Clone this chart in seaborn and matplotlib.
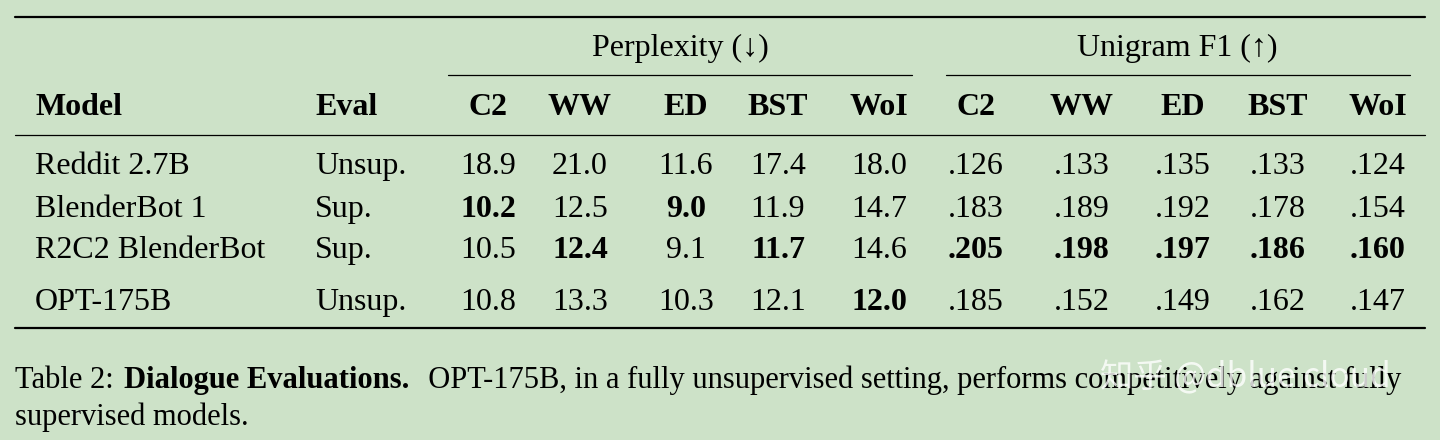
import matplotlib
matplotlib.use("Agg")
import matplotlib.pyplot as plt
import seaborn as sns

sns.set_theme(style="white")
plt.rcParams['font.family'] = ['Liberation Serif', 'Noto Sans CJK SC', 'DejaVu Sans']
plt.rcParams['text.color'] = 'black'

# table data
models = ["Reddit 2.7B", "BlenderBot 1", "R2C2 BlenderBot", "OPT-175B"]
evals = ["Unsup.", "Sup.", "Sup.", "Unsup."]
datasets = ["C2", "WW", "ED", "BST", "WoI"]
perplexity = [
    ["18.9", "21.0", "11.6", "17.4", "18.0"],
    ["10.2", "12.5", "9.0", "11.9", "14.7"],
    ["10.5", "12.4", "9.1", "11.7", "14.6"],
    ["10.8", "13.3", "10.3", "12.1", "12.0"],
]
unigram_f1 = [
    [".126", ".133", ".135", ".133", ".124"],
    [".183", ".189", ".192", ".178", ".154"],
    [".205", ".198", ".197", ".186", ".160"],
    [".185", ".152", ".149", ".162", ".147"],
]
# best value per column (bold)
best_ppl = [1, 2, 1, 2, 3]
best_f1 = [2, 2, 2, 2, 2]

bg = "#cde2c8"
fig = plt.figure(figsize=(14.4, 4.4), dpi=100, facecolor=bg)
ax = fig.add_axes([0, 0, 1, 1])
ax.set_facecolor(bg)
ax.set_xlim(0, 1440)
ax.set_ylim(440, 0)
ax.axis("off")

fs = 23
ppl_x = [488, 580, 686, 778, 879]
f1_x = [976, 1082, 1183, 1278, 1378]
row_base = [174, 217, 258, 310]   # text baselines

# rules
ax.plot([15, 1425], [17, 17], color="black", lw=1.6)
ax.plot([15, 1425], [135, 135], color="black", lw=0.9)
ax.plot([15, 1425], [328, 328], color="black", lw=1.6)
ax.plot([448, 912], [75, 75], color="black", lw=0.9)
ax.plot([946, 1410], [75, 75], color="black", lw=0.9)

ax.text(680, 56, "Perplexity (↓)", fontsize=fs, ha="center", va="baseline",
        family=['Liberation Serif', 'DejaVu Sans'])
ax.text(1177, 56, "Unigram F1 (↑)", fontsize=fs, ha="center", va="baseline",
        family=['Liberation Serif', 'DejaVu Sans'])

ax.text(35, 115, "Model", fontsize=fs, fontweight="bold", va="baseline")
ax.text(315, 115, "Eval", fontsize=fs, fontweight="bold", va="baseline")
for x, d in zip(ppl_x + f1_x, datasets + datasets):
    ax.text(x, 115, d, fontsize=fs, fontweight="bold", ha="center", va="baseline")

for i, y in enumerate(row_base):
    ax.text(35, y, models[i], fontsize=fs, va="baseline")
    ax.text(315, y, evals[i], fontsize=fs, va="baseline")
    for j in range(5):
        ax.text(ppl_x[j], y, perplexity[i][j], fontsize=fs, ha="center", va="baseline",
                fontweight="bold" if best_ppl[j] == i else "normal")
        ax.text(f1_x[j], y, unigram_f1[i][j], fontsize=fs, ha="center", va="baseline",
                fontweight="bold" if best_f1[j] == i else "normal")

# caption, pieces placed one after another
cfs = 22
renderer = fig.canvas.get_renderer()
inv = ax.transData.inverted()
x = 15
for txt, wt in [("Table 2: ", "normal"), ("Dialogue Evaluations.", "bold"),
                ("  OPT-175B, in a fully unsupervised setting, performs competitively against fully", "normal")]:
    t = ax.text(x, 388, txt, fontsize=cfs, fontweight=wt, va="baseline")
    bb = t.get_window_extent(renderer)
    x = inv.transform((bb.x1, bb.y0))[0] + 3
ax.text(15, 425, "supervised models.", fontsize=cfs, va="baseline")

# watermark
ax.text(1100, 378, "知乎 @dblue cloud", fontsize=24, color="white", alpha=0.8, va="center",
        family=['Noto Sans CJK SC', 'DejaVu Sans'])

fig.savefig("out.png", dpi=100, facecolor=bg)
